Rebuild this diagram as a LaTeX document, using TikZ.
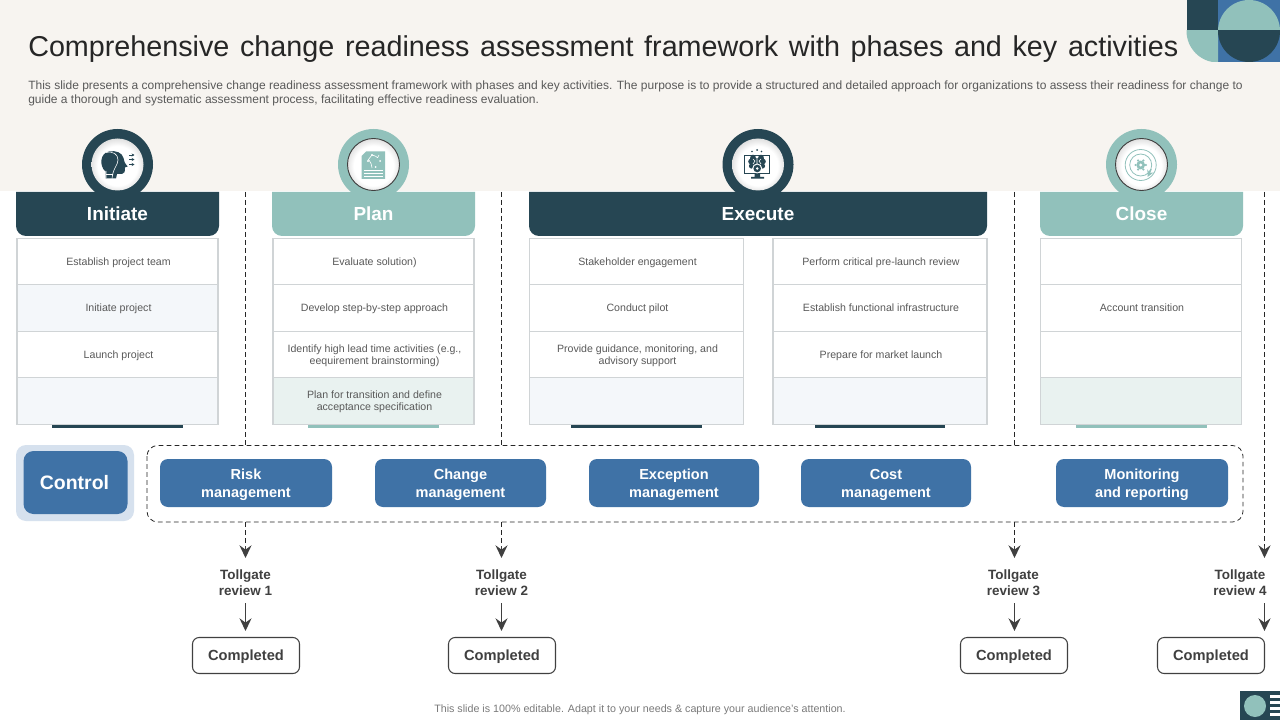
\documentclass[tikz,border=0pt]{standalone}
\usepackage{fontspec}
\setmainfont{Liberation Sans}
\usetikzlibrary{arrows.meta,calc}
\definecolor{dark}{HTML}{264653}
\definecolor{teal}{HTML}{91C1BB}
\definecolor{blue}{HTML}{3F72A6}
\definecolor{ltblue}{HTML}{D6E1EE}
\definecolor{cream}{HTML}{F7F4F0}
\definecolor{rowb}{HTML}{F4F7FA}
\definecolor{rowg}{HTML}{E9F2F0}
\definecolor{cellline}{HTML}{D0D4D6}
\definecolor{txt}{HTML}{404040}
\definecolor{grayt}{HTML}{595959}
\pgfdeclareradialshading{rimw}{\pgfpoint{0bp}{-2bp}}{color(0bp)=(white); color(19bp)=(white); color(27bp)=(black!14); color(50bp)=(black!14)}
\tikzset{
 x=0.75pt,y=-0.75pt,
 cell/.style={draw=cellline,line width=1pt,minimum height=34.9pt,inner sep=0pt},
 celltext/.style={inner sep=0pt,align=center,text=grayt,font=\fontsize{7.95}{9}\selectfont},
 head/.style={minimum height=33pt,inner sep=0pt,text=white,font=\bfseries\fontsize{14.2}{16}\selectfont},
 ctl/.style={fill=blue,rounded corners=6pt,minimum height=36pt,inner sep=0pt},
 ctltext/.style={inner sep=0pt,align=center,text=white,font=\bfseries\fontsize{10.9}{13.5}\selectfont},
 gate/.style={align=center,text=txt,font=\bfseries\fontsize{10.1}{12}\selectfont,inner sep=0pt},
 done/.style={draw=txt,line width=0.8pt,rounded corners=5pt,fill=white,inner sep=0pt,minimum width=80.25pt,minimum height=27pt,text height=9.5pt,text depth=2.3pt,text=txt,font=\bfseries\fontsize{11}{13}\selectfont},
 dashline/.style={draw=black!85,line width=0.6pt,dash pattern=on 3.5pt off 2.5pt},
 arr/.style={draw=txt,line width=1pt,-{Stealth[length=9.5pt,width=9pt,inset=3.2pt]}},
 bar/.style={line width=2.25pt},
}
\newcommand{\headshape}[5]{% x1 x2 colour name label
 \fill[#3] (#1,192) -- (#2,192) [rounded corners=7.5pt] -- (#2,236) -- (#1,236) [sharp corners] -- cycle;
 \node[head] (#4) at ({(#1+#2)/2},214) {#5};}
\newcommand{\ring}[2]{% x colour
 \fill[#2] (#1,164.5) circle[radius=35.5];
 \shade[shading=rimw] (#1,164.5) circle[radius=26];}
\newcommand{\cellat}[6]{\node[cell,fill=#4,minimum width=#3*0.75pt] (#5) at (#1,#2) {};
 \def\celltmp{#6}\ifx\celltmp\empty\else\node[celltext] (#5t) at ($(#5.center)+(1,1.5)$) {\strut #6\strut};\fi}
\newcommand{\mgmt}[5]{\node[ctl,minimum width=#3*0.75pt] (#4) at (#1,#2) {};
 \node[ctltext] (#4t) at ($(#4.center)+(0,2)$) {#5};}
\begin{document}
\begin{tikzpicture}
\useasboundingbox (0,0) rectangle (1280,720);
\fill[white] (0,0) rectangle (1280,720);
\fill[cream] (0,0) rectangle (1280,191);
% corner motif
\fill[blue] (1218,0) rectangle (1280,62);
\fill[dark] (1186.5,0) rectangle (1218,31);
\begin{scope}\clip (1186,31) rectangle (1218,62); \fill[teal] (1218,31) circle[radius=31.5]; \end{scope}
\begin{scope}\clip (1218,0) rectangle (1280,31); \fill[teal] (1249,31) circle[radius=31]; \end{scope}
\begin{scope}\clip (1218,31) rectangle (1280,62); \fill[dark] (1249,31) circle[radius=31]; \end{scope}
% title
\node[anchor=west,inner sep=0pt,text=black!85,font=\fontsize{21.55}{26}\selectfont] (title) at (28,49.5) {\spaceskip=8pt Comprehensive change readiness assessment framework with phases and key activities};
\node[anchor=north west,inner sep=0pt,text=grayt,align=left,font=\fontsize{9}{10.5}\selectfont] (sub) at (28,80.5) {This slide presents a comprehensive change readiness assessment framework with phases and key activities. The purpose is to provide a structured and detailed approach for organizations to assess their readiness for change to\\guide a thorough and systematic assessment process, facilitating effective readiness evaluation.};
% vertical dashed
\coordinate (v1t) at (245.5,192); \coordinate (v2t) at (501.5,192); \coordinate (v3t) at (1014.5,192); \coordinate (v4t) at (1264.5,192);
% rings
\ring{117.5}{dark}
\ring{373.5}{teal}
\ring{758}{dark}
\ring{1141.5}{teal}
\draw[black!75,line width=0.7pt] (373.5,164.5) circle[radius=26];
\draw[black!75,line width=0.7pt] (1141.5,164.5) circle[radius=26];
% icon: head with bulb
\fill[dark] (105.5,178.5) -- (105.5,171.5) .. controls (99,166) and (100,153) .. (109,151.5) .. controls (116,150) and (122.5,153) .. (123.5,158) .. controls (124,161) and (124.5,163) .. (127.7,166.5) -- (124.8,167.5) .. controls (125,171) and (125,174) .. (122,174) -- (117,174) -- (116,178.5) -- cycle;
\draw[white,line width=0.45pt] (106,152.5) .. controls (113,151) and (118,154) .. (118,160) .. controls (118,165) and (113,168) .. (112,178.5) (105.5,174.5) -- (113,174.5) (106,171) -- (106,178);
\foreach \yy in {155,159.5,164.5} \draw[dark,line width=0.6pt,-{Stealth[length=2.2pt,width=2.4pt]}] (129,\yy) -- (134.5,\yy);
% icon: plan doc
\fill[teal] (366,151.5) -- (385,151.5) -- (385,179) -- (361.5,179) -- (361.5,156) -- cycle;
\draw[white,line width=0.35pt] (364,170) -- (383,170) (364,173) -- (383,173) (364,176) -- (383,176);
\draw[white,line width=0.45pt] (372,155) .. controls (380,157) and (376,160) .. (379,155) (369,160) .. controls (371,163) and (372,165) .. (372,168) (372,155) -- (368,160);
\fill[white] (372,155) circle[radius=1.2] (368,161) circle[radius=1.1] (375.5,167) circle[radius=1] (380,161) circle[radius=1];
% icon: monitor
\draw[dark,line width=1pt] (744.5,155.5) rectangle (769.5,173.5);
\fill[dark] (753,157.5) circle[radius=2.8] (761,157.5) circle[radius=2.8] (751,161.5) circle[radius=2.8] (763,161.5) circle[radius=2.8] (751.5,166) circle[radius=2.6] (762.5,166) circle[radius=2.6];
\fill[dark] (750,158) rectangle (764,168);
\draw[white,line width=0.5pt] (757,156) -- (757,165) (753,159) -- (755,161) -- (753,164) (761,159) -- (759,161) -- (761,164);
\fill[white] (757.2,168.5) circle[radius=5]; \fill[dark] (757.2,168.5) circle[radius=3.8]; \fill[white] (757.2,168.5) circle[radius=1.3];
\fill[dark] (754.5,174) rectangle (760,177) (751,177) rectangle (764,178.7);
\fill[dark] (752,151.5) circle[radius=.8] (757,150) circle[radius=1] (761.5,151.5) circle[radius=.8];
% icon: circle arrows
\draw[teal,line width=0.6pt] (1140.7,165) circle[radius=15.5];
\draw[teal,line width=0.6pt] (1140.7,165) circle[radius=11];
\fill[teal] (1140.7,165) circle[radius=4.4]; \fill[white] (1140.7,165) circle[radius=1.7];
\foreach \a in {0,60,...,300} \fill[teal] ($(1140.7,165)+(\a:5.2)$) circle[radius=1.2];
\draw[teal,line width=1pt,-{Stealth[length=5pt,width=5pt]}] (1151,169) .. controls (1150,172) and (1149,174) .. (1147.5,177);
% headers
\headshape{16}{219}{dark}{h1}{Initiate}
\headshape{272}{475}{teal}{h2}{Plan}
\headshape{529}{987}{dark}{h3}{Execute}
\headshape{1040}{1243}{teal}{h4}{Close}
% column 1
\cellat{117.5}{261.5}{201}{white}{a1}{Establish project team}
\cellat{117.5}{308}{201}{rowb}{a2}{Initiate  project}
\cellat{117.5}{354.5}{201}{white}{a3}{Launch project}
\cellat{117.5}{401}{201}{rowb}{a4}{}
% column 2
\cellat{373.5}{261.5}{201}{white}{b1}{Evaluate  solution)}
\cellat{373.5}{308}{201}{white}{b2}{Develop step-by-step approach}
\cellat{373.5}{354.5}{201}{white}{b3}{Identify high lead time activities (e.g.,\\eequirement brainstorming)}
\cellat{373.5}{401}{201}{rowg}{b4}{Plan  for transition and define\\acceptance specification}
% column 3
\cellat{636.5}{261.5}{214}{white}{c1}{Stakeholder engagement}
\cellat{636.5}{308}{214}{white}{c2}{Conduct pilot}
\cellat{636.5}{354.5}{214}{white}{c3}{Provide guidance, monitoring, and\\advisory support}
\cellat{636.5}{401}{214}{rowb}{c4}{}
% column 4
\cellat{880}{261.5}{214}{white}{d1}{Perform critical pre-launch review}
\cellat{880}{308}{214}{white}{d2}{Establish functional infrastructure}
\cellat{880}{354.5}{214}{white}{d3}{Prepare for market launch}
\cellat{880}{401}{214}{rowb}{d4}{}
% column 5
\cellat{1141}{261.5}{201}{white}{e1}{}
\cellat{1141}{308}{201}{white}{e2}{Account transition}
\cellat{1141}{354.5}{201}{white}{e3}{}
\cellat{1141}{401}{201}{rowg}{e4}{}
% accent bars
\draw[bar,dark] (52,426) -- (183,426);
\draw[bar,teal] (308,426) -- (439,426);
\draw[bar,dark] (571,426) -- (702,426);
\draw[bar,dark] (815,426) -- (945,426);
\draw[bar,teal] (1076,426) -- (1207,426);
% control
\fill[ltblue,rounded corners=7.5pt] (16,445) rectangle (134,521);
\node[ctl,minimum width=78pt,minimum height=47.25pt,rounded corners=7.5pt] (ctrlbox) at (75.5,482.5) {};
\node[ctltext,font=\bfseries\fontsize{14.6}{17}\selectfont] (ctrl) at (74.5,483) {Control};
% dashed frame
\draw[dashline,rounded corners=8pt] (147,445.5) rectangle (1243,522);
\mgmt{246}{483}{172}{m1}{Risk\\management}
\mgmt{460.5}{483}{171}{m2}{Change\\management}
\mgmt{674}{483}{170}{m3}{Exception\\management}
\mgmt{886}{483}{170}{m4}{Cost\\management}
\mgmt{1142}{483}{172}{m5}{Monitoring\\and reporting}
% vertical dashed connectors
\draw[dashline] (v1t) -- (245.5,445.5);
\draw[dashline] (v2t) -- (501.5,445.5);
\draw[dashline] (v3t) -- (1014.5,445.5);
\draw[dashline] (v4t) -- (1264.5,548);
% tollgates
\node[gate] (g1) at (245.5,582.5) {Tollgate\\review 1};
\node[gate] (g2) at (501.5,582.5) {Tollgate\\review 2};
\node[gate] (g3) at (1013.5,582.5) {Tollgate\\review 3};
\node[gate] (g4) at (1240,582.5) {Tollgate\\review 4};
\node[done] (k1) at (246,655.5) {Completed};
\node[done] (k2) at (502,655.5) {Completed};
\node[done] (k3) at (1014,655.5) {Completed};
\node[done] (k4) at (1211,655.5) {Completed};
% arrows from frame
\coordinate (f1) at (245.5,522); \coordinate (f2) at (501.5,522); \coordinate (f3) at (1014.5,522);
\coordinate (i1) at (245.5,558); \coordinate (i2) at (501.5,558); \coordinate (i3) at (1014.5,558); \coordinate (i4) at (1264.5,558);
\draw[dashline] (f1) -- (245.5,546);
\draw[dashline] (f2) -- (501.5,546);
\draw[dashline] (f3) -- (1014.5,546);
\foreach \n in {1,2,3,4}{\draw[arr] ($(i\n)+(0,-12)$) -- (i\n);}
\coordinate (o1) at (245.5,603); \coordinate (o2) at (501.5,603); \coordinate (o3) at (1014.5,603); \coordinate (o4) at (1264.5,603);
\draw[arr] (o1) -- (245.5,631);
\draw[arr] (o2) -- (501.5,631);
\draw[arr] (o3) -- (1014.5,631);
\draw[arr] (o4) -- (1264.5,631);
% footer
\node[text=grayt!80,inner sep=0pt,font=\fontsize{8.03}{9}\selectfont] (foot) at (640,709.5) {This slide is 100\% editable.  Adapt it to your needs \& capture your audience's attention.};
\fill[dark] (1240,691) rectangle (1280,720);
\fill[teal] (1255,706) circle[radius=11];
\foreach \yy in {695,701,707,713} \fill[white] (1270,\yy) rectangle (1280,\yy+2.5);
\end{tikzpicture}
\end{document}
